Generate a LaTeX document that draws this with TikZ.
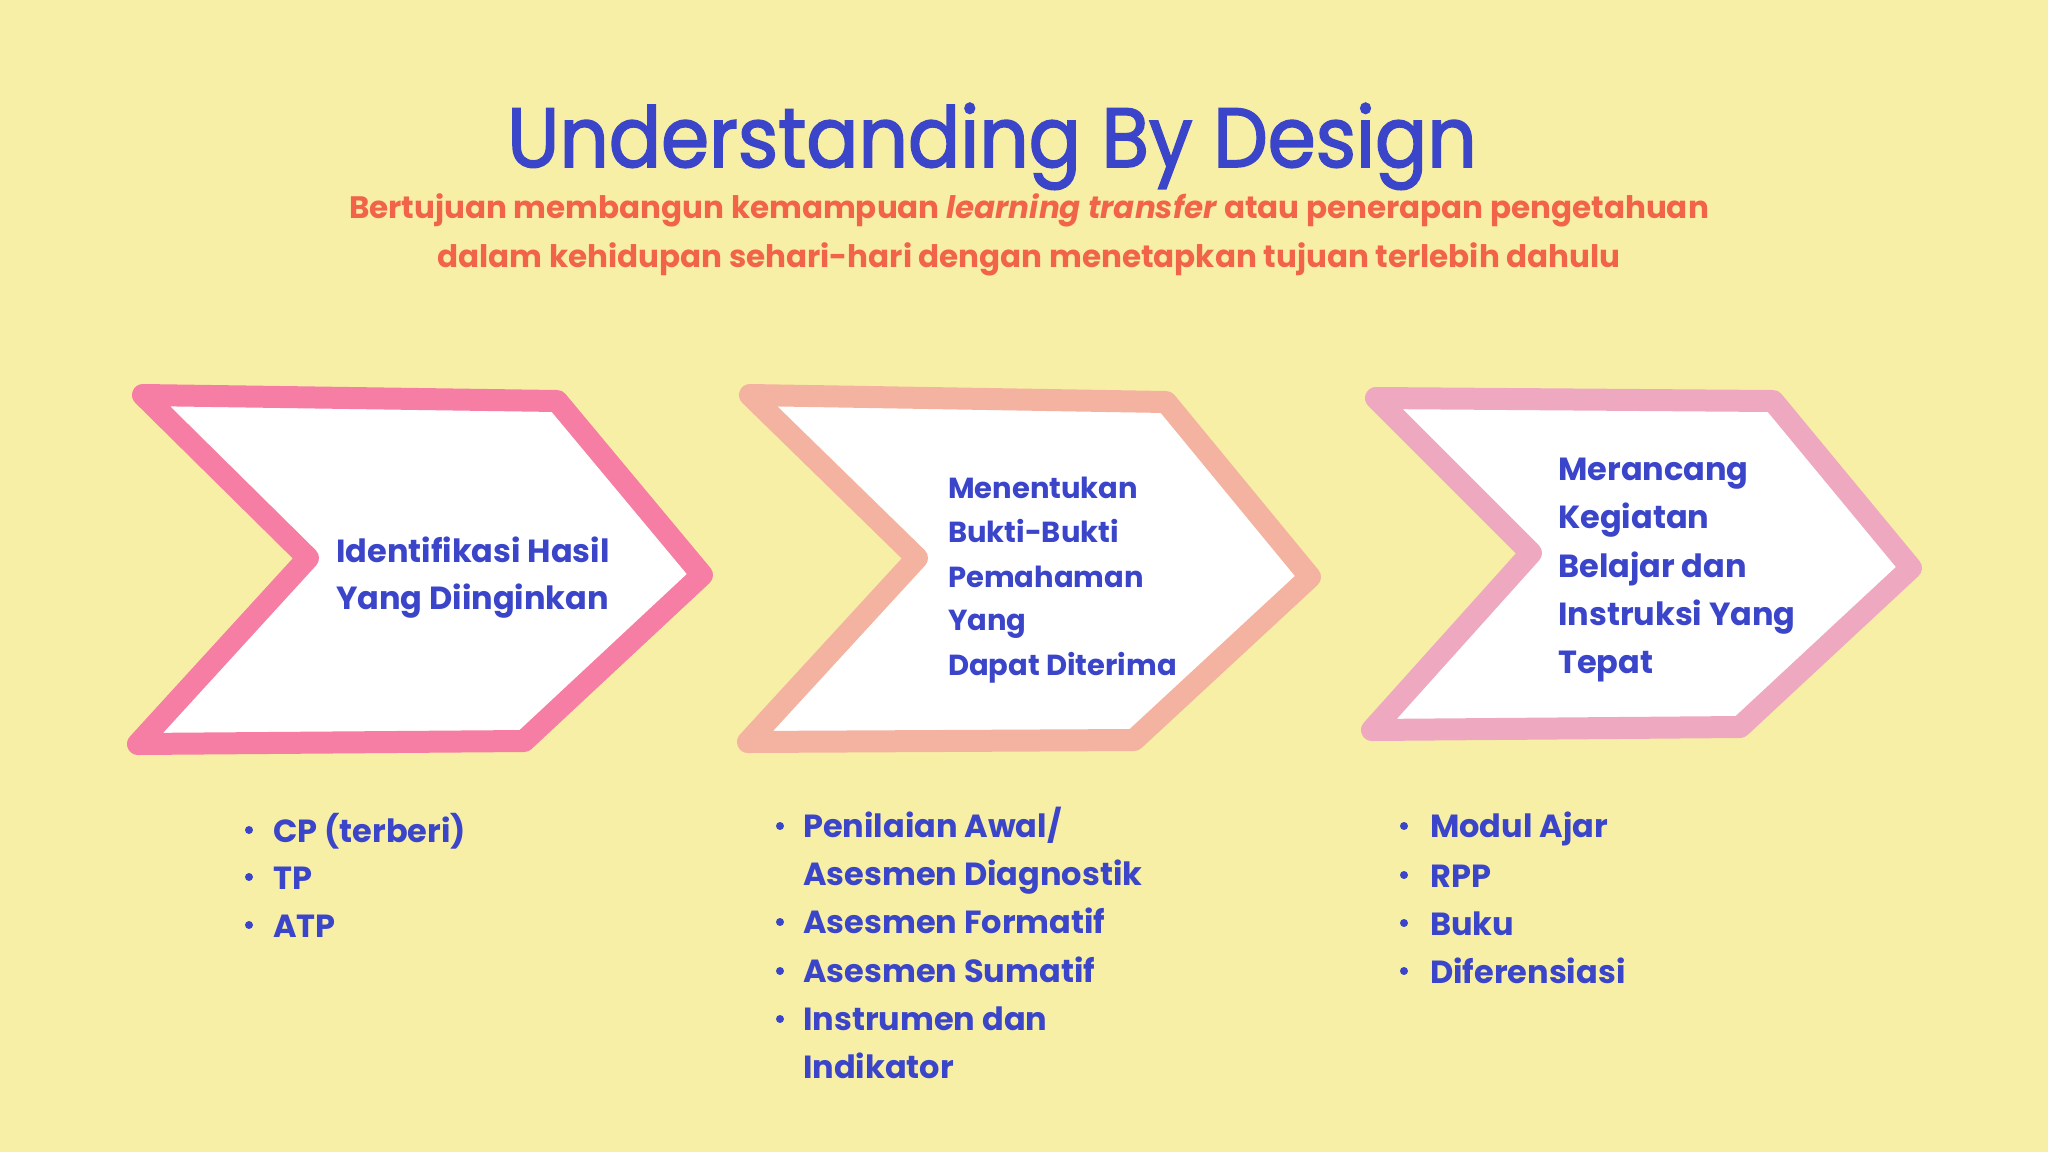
\documentclass[tikz,border=0pt]{standalone}
\usepackage{fontspec}
\setmainfont{Poppins}
\newfontfamily\titlefont{Poppins}[FakeStretch=0.92, FakeBold=2]
\definecolor{bgc}{HTML}{F8EFA6}
\definecolor{ink}{HTML}{3A45C9}
\definecolor{orng}{HTML}{F1644A}
\definecolor{cA}{HTML}{F67DA3}
\definecolor{cB}{HTML}{F4B2A0}
\definecolor{cC}{HTML}{EEA9C1}
\tikzset{
  chev/.style={line width=22pt, line join=round, line cap=round, fill=white},
  lbl/.style={anchor=base west, inner sep=0pt, text=ink, font=\fontsize{32}{32}\selectfont\bfseries},
  lblsm/.style={anchor=base west, inner sep=0pt, text=ink, font=\fontsize{29}{29}\selectfont\bfseries},
  item/.style={anchor=base west, inner sep=0pt, text=ink, font=\fontsize{32}{32}\selectfont\bfseries},
  dot/.style={circle, fill=ink, inner sep=0pt, minimum size=8pt},
  sub/.style={anchor=base, inner sep=0pt, text=orng, font=\fontsize{31}{31}\selectfont\bfseries}
}
\begin{document}
\begin{tikzpicture}[x=1pt,y=-1pt]
\fill[bgc] (0,0) rectangle (2048,1152);
\useasboundingbox (0,0) rectangle (2048,1152);
% title
\node[anchor=base, inner sep=0pt, text=ink, font=\fontsize{84}{84}\selectfont\titlefont] (title) at (992,167) {Understanding By Design};
\node[sub] (sub1) at (1029,218) {Bertujuan membangun kemampuan \textit{learning transfer} atau penerapan pengetahuan};
\node[sub] (sub2) at (1029,267) {dalam kehidupan sehari-hari dengan menetapkan tujuan terlebih dahulu};
% chevrons
\draw[chev, draw=cA] (143,395) -- (557,401) -- (702,575) -- (524,741) -- (138,744) -- (308,558) -- cycle;
\draw[chev, draw=cB] (750,395) -- (1166,402) -- (1310,577) -- (1134,740) -- (748,742) -- (917,558) -- cycle;
\draw[chev, draw=cC] (1376,398) -- (1773,401) -- (1911,568) -- (1740,727) -- (1372,730) -- (1531,553) -- cycle;
% chevron 1 text
\node[lbl] (a1) at (336,562) {Identifikasi Hasil};
\node[lbl] (a2) at (336,609) {Yang Diinginkan};
% chevron 2 text
\node[lblsm] (b1) at (948,498) {Menentukan};
\node[lblsm] (b2) at (948,542) {Bukti-Bukti};
\node[lblsm] (b3) at (948,587) {Pemahaman};
\node[lblsm] (b4) at (948,630) {Yang};
\node[lblsm] (b5) at (948,675) {Dapat Diterima};
% chevron 3 text
\node[lbl] (c1) at (1558,480) {Merancang};
\node[lbl] (c2) at (1558,528) {Kegiatan};
\node[lbl] (c3) at (1558,577) {Belajar dan};
\node[lbl] (c4) at (1558,625) {Instruksi Yang};
\node[lbl] (c5) at (1558,673) {Tepat};
% list 1
\node[dot] (d11) at (249,830) {};
\node[item] (i11) at (273,842) {CP (terberi)};
\node[dot] (d12) at (249,877) {};
\node[item] (i12) at (273,889) {TP};
\node[dot] (d13) at (249,925) {};
\node[item] (i13) at (273,937) {ATP};
% list 2
\node[dot] (d21) at (780,826) {};
\node[item] (i21) at (803,837) {Penilaian Awal/};
\node[item] (i22) at (803,885) {Asesmen Diagnostik};
\node[dot] (d23) at (780,922) {};
\node[item] (i23) at (803,933) {Asesmen Formatif};
\node[dot] (d24) at (780,971) {};
\node[item] (i24) at (803,982) {Asesmen Sumatif};
\node[dot] (d25) at (780,1019) {};
\node[item] (i25) at (803,1030) {Instrumen dan};
\node[item] (i26) at (803,1078) {Indikator};
% list 3
\node[dot] (d31) at (1404,826) {};
\node[item] (i31) at (1430,837) {Modul Ajar};
\node[dot] (d32) at (1404,875) {};
\node[item] (i32) at (1430,887) {RPP};
\node[dot] (d33) at (1404,923) {};
\node[item] (i33) at (1430,935) {Buku};
\node[dot] (d34) at (1404,971) {};
\node[item] (i34) at (1430,983) {Diferensiasi};
\end{tikzpicture}
\end{document}
